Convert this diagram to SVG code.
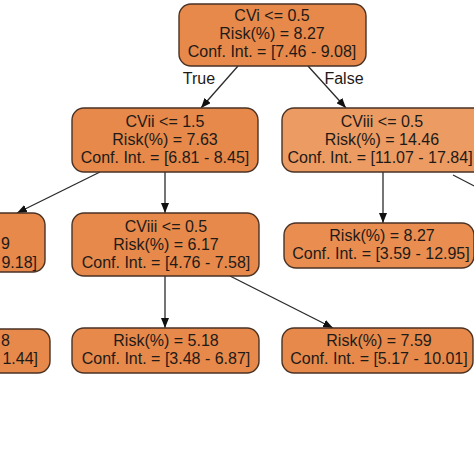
<svg xmlns="http://www.w3.org/2000/svg" width="474" height="474" viewBox="0 0 474 474">
<style>
.n{fill:#E6894A;stroke:#4a3224;stroke-width:1.4}
.t{font-family:"Liberation Sans",Arial,sans-serif;font-size:16px;fill:#1e1a18;text-anchor:middle}
.e{font-family:"Liberation Sans",Arial,sans-serif;font-size:16px;fill:#1e1a18;text-anchor:end}
.c{stroke:#2a2a2a;stroke-width:1.3;fill:none}
</style>
<defs>
<marker id="ah" viewBox="0 0 10 8" refX="10" refY="4" markerWidth="10" markerHeight="8" markerUnits="userSpaceOnUse" orient="auto">
<path d="M0,0 L10,4 L0,8 Z" fill="#111"/>
</marker>
</defs>
<rect width="474" height="474" fill="#ffffff"/>
<g id="connectors">
<line class="c" x1="238" y1="66" x2="201" y2="108" marker-end="url(#ah)"/>
<line class="c" x1="308" y1="66" x2="346" y2="108" marker-end="url(#ah)"/>
<line class="c" x1="100" y1="172" x2="17" y2="213" marker-end="url(#ah)"/>
<line class="c" x1="165" y1="172" x2="165" y2="213" marker-end="url(#ah)"/>
<line class="c" x1="383" y1="172" x2="383" y2="223" marker-end="url(#ah)"/>
<line class="c" x1="453" y1="175" x2="480" y2="189"/>
<line class="c" x1="165" y1="276" x2="165" y2="328" marker-end="url(#ah)"/>
<line class="c" x1="230" y1="276" x2="333" y2="328" marker-end="url(#ah)"/>
<text class="t" x="199" y="84">True</text>
<text class="t" x="344" y="84">False</text>
</g>
<g id="root">
<rect class="n" x="179" y="4" width="187" height="62" rx="12"/>
<text class="t" x="272" y="21">CVi &lt;= 0.5</text>
<text class="t" x="272" y="39">Risk(%) = 8.27</text>
<text class="t" x="272" y="57">Conf. Int. = [7.46 - 9.08]</text>
</g>
<g id="cvii">
<rect class="n" x="72" y="108" width="186" height="64" rx="12"/>
<text class="t" x="165" y="127">CVii &lt;= 1.5</text>
<text class="t" x="165" y="145">Risk(%) = 7.63</text>
<text class="t" x="165" y="163">Conf. Int. = [6.81 - 8.45]</text>
</g>
<g id="cviii_right">
<rect class="n" x="282" y="108" width="204" height="64" rx="12" style="fill:#EC9B62"/>
<text class="t" x="382" y="127">CViii &lt;= 0.5</text>
<text class="t" x="382" y="145">Risk(%) = 14.46</text>
<text class="t" x="380" y="163">Conf. Int. = [11.07 - 17.84]</text>
</g>
<g id="left_cut">
<rect class="n" x="-150" y="213" width="195" height="59" rx="12"/>
<text class="e" x="10" y="249">9</text>
<text class="e" x="37" y="268">9.18]</text>
</g>
<g id="cviii_mid">
<rect class="n" x="72" y="213" width="187" height="63" rx="12"/>
<text class="t" x="166" y="232">CViii &lt;= 0.5</text>
<text class="t" x="166" y="250">Risk(%) = 6.17</text>
<text class="t" x="166" y="268">Conf. Int. = [4.76 - 7.58]</text>
</g>
<g id="leaf_827">
<rect class="n" x="284" y="223" width="190" height="45" rx="12" style="fill:#E98E50"/>
<text class="t" x="382" y="241">Risk(%) = 8.27</text>
<text class="t" x="381" y="259">Conf. Int. = [3.59 - 12.95]</text>
</g>
<g id="leaf_cut">
<rect class="n" x="-150" y="329" width="200" height="44" rx="12"/>
<text class="e" x="10" y="346">8</text>
<text class="e" x="38" y="364">1.44]</text>
</g>
<g id="leaf_518">
<rect class="n" x="72" y="328" width="187" height="45" rx="12"/>
<text class="t" x="166" y="346">Risk(%) = 5.18</text>
<text class="t" x="166" y="364">Conf. Int. = [3.48 - 6.87]</text>
</g>
<g id="leaf_759">
<rect class="n" x="282" y="328" width="191" height="45" rx="12"/>
<text class="t" x="379" y="346">Risk(%) = 7.59</text>
<text class="t" x="379" y="364">Conf. Int. = [5.17 - 10.01]</text>
</g>
</svg>
